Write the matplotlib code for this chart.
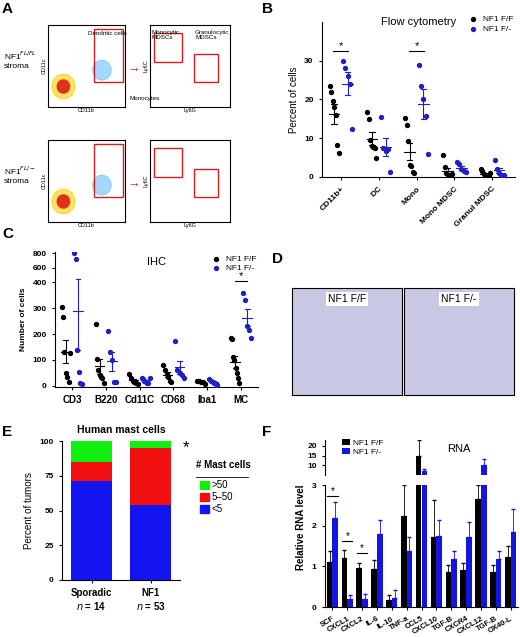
import matplotlib
matplotlib.use("Agg")
import matplotlib.pyplot as plt
import numpy as np
from matplotlib.patches import Rectangle

W, H = 520, 637
fig = plt.figure(figsize=(W/100, H/100), dpi=100)
plt.rcParams['font.family'] = ['Liberation Sans', 'DejaVu Sans']
BLK = 'black'; BLU = '#2020c8'

def ax_px(x0, y0, x1, y1):
    return fig.add_axes([x0/W, 1-y1/H, (x1-x0)/W, (y1-y0)/H])

def letter(x, y, s):
    fig.text(x/W, 1-y/H, s, fontsize=11, fontweight='bold', va='top')

# ---------- data ----------
b_cats = ["CD11b+", "DC", "Mono", "Mono MDSC", "Granul MDSC"]
b_ff = [[23.5, 22, 19.5, 18, 16, 8.2, 6.3], [16.8, 15, 9.5, 8, 7.8, 7.5, 4.8],
        [15.3, 13.5, 9.2, 3, 2.8, 1.2, 1.0], [5.6, 2.5, 1.0, 0.5, 0.3, 0.2, 0.8],
        [2.0, 1.5, 0.8, 0.5, 0.3, 0.2, 1.0]]
b_fm = [[30, 28, 26, 24, 12.5], [15.6, 7.5, 6.8, 7.2, 1.2], [29, 23.5, 20, 15.8, 6],
        [3.8, 3.3, 2.0, 1.5, 1.2], [4.3, 2.0, 1.0, 0.6, 0.5]]

c_cats = ["CD3", "B220", "Cd11C", "CD68", "Iba1", "MC"]
c_ff = [[305, 265, 130, 50, 35, 15, 125], [240, 105, 60, 40, 35, 30, 12],
        [45, 30, 20, 15, 10, 5], [80, 60, 45, 35, 20, 15], [20, 18, 15, 15, 5],
        [185, 180, 110, 100, 70, 50, 30, 12]]
c_fm = [[800, 730, 140, 55, 10, 5], [210, 130, 100, 15, 15], [30, 25, 20, 15, 12, 10, 30],
        [175, 60, 50, 40, 30], [25, 20, 15, 10, 5, 2], [360, 330, 230, 215, 185]]

e_groups = ["Sporadic", "NF1"]
e_n = [14, 53]
e_lt5 = [71, 54]
e_5_50 = [14, 41]
e_gt50 = [15, 5]

f_genes = ["SCF", "CXCL1", "CXCL2", "IL-6", "IL-10", "TNF-a", "CCL5", "CXCL10",
           "TGF-B", "CXCR4", "CXCL12", "TGF-B", "OX40-L"]
f_ff = [1.1, 1.2, 0.95, 0.93, 0.17, 2.25, 15, 1.72, 0.85, 0.9, 2.65, 0.85, 1.22]
f_fm = [2.2, 0.2, 0.2, 1.8, 0.22, 1.38, 7, 1.75, 1.18, 1.72, 10, 1.18, 1.85]
f_ff_err = [0.28, 0.2, 0.12, 0.22, 0.12, 0.75, 8, 0.9, 0.18, 0.18, 0.35, 0.18, 0.28]
f_fm_err = [0.38, 0.1, 0.12, 0.35, 0.2, 0.33, 1.0, 0.4, 0.2, 0.38, 3, 0.2, 0.55]

def sem(v):
    v = np.array(v, float); return v.mean(), v.std(ddof=1)/np.sqrt(len(v))

def scatter_group(ax, x, vals, col, w=0.28):
    vals = np.array(vals, float)
    n = len(vals)
    offs = np.linspace(-0.12, 0.12, n) if n > 1 else [0]
    ax.scatter(x + np.array(offs), vals, s=8, color=col, zorder=3)
    m, s = sem(vals)
    ax.plot([x-w/2, x+w/2], [m, m], color=col, lw=0.8)
    ax.plot([x, x], [m-s, m+s], color=col, lw=0.8)
    ax.plot([x-w/4, x+w/4], [m-s, m-s], color=col, lw=0.8)
    ax.plot([x-w/4, x+w/4], [m+s, m+s], color=col, lw=0.8)

def clean(ax):
    for s in ['top', 'right']:
        ax.spines[s].set_visible(False)
    ax.tick_params(labelsize=6, width=0.8, length=2.5)
    for lab in ax.get_xticklabels() + ax.get_yticklabels():
        lab.set_fontweight('bold')

# ---------- A ----------
letter(2, 2, "A")
for row, (yy, lab) in enumerate([(15, "NF1$^{FL/FL}$\nstroma"), (130, "NF1$^{FL/-}$\nstroma")]):
    fig.text(4/W, 1-(yy+45)/H, lab, fontsize=6, va='center')
    a1 = ax_px(48, yy+10, 125, yy+92)
    a2 = ax_px(150, yy+10, 230, yy+92)
    for a in (a1, a2):
        a.set_xticks([]); a.set_yticks([]); a.set_xlim(0, 1); a.set_ylim(0, 1)
        a.set_facecolor('white')
    a1.add_patch(plt.Circle((0.2, 0.25), 0.15, color='#ffd000', alpha=0.6))
    a1.add_patch(plt.Circle((0.2, 0.25), 0.08, color='#e03020'))
    a1.add_patch(plt.Circle((0.7, 0.45), 0.12, color='#80c8ff', alpha=0.7))
    a1.add_patch(Rectangle((0.6, 0.3), 0.38, 0.65, fill=False, ec='#d02020', lw=1))
    a1.set_xlabel("CD11b", fontsize=4, labelpad=1); a1.set_ylabel("CD11c", fontsize=4, labelpad=1)
    a2.add_patch(Rectangle((0.05, 0.55), 0.35, 0.35, fill=False, ec='#d02020', lw=1))
    a2.add_patch(Rectangle((0.55, 0.3), 0.3, 0.35, fill=False, ec='#d02020', lw=1))
    a2.set_xlabel("Ly6G", fontsize=4, labelpad=1); a2.set_ylabel("Ly6C", fontsize=4, labelpad=1)
    fig.text(127/W, 1-(yy+55)/H, "\u2192", color='#d02020', fontsize=9, va='center')
    if row == 0:
        fig.text(88/W, 1-(yy+20)/H, "Dendritic cells", fontsize=4.5)
        fig.text(130/W, 1-(yy+85)/H, "Monocytes", fontsize=4.5)
        fig.text(152/W, 1-(yy+20)/H, "Monocytic\nMDSCs", fontsize=4.5, va='center')
        fig.text(195/W, 1-(yy+20)/H, "Granulocytic\nMDSCs", fontsize=4.5, va='center')

# ---------- B ----------
letter(262, 2, "B")
axB = ax_px(322, 22, 515, 177)
for i in range(len(b_cats)):
    scatter_group(axB, i-0.18, b_ff[i], BLK)
    scatter_group(axB, i+0.18, b_fm[i], BLU)
axB.set_xlim(-0.5, 4.6); axB.set_ylim(0, 40)
axB.set_yticks([0, 10, 20, 30])
axB.set_xticks(range(len(b_cats)))
axB.set_xticklabels(b_cats, rotation=45, ha='right', rotation_mode='anchor')
axB.set_ylabel("Percent of cells", fontsize=7)
axB.set_title("Flow cytometry", fontsize=8, y=0.93)
for i in (0, 2):
    axB.plot([i-0.2, i+0.2], [32.5, 32.5], color='k', lw=0.8)
    axB.text(i, 32.5, "*", ha='center', va='bottom', fontsize=8)
axB.scatter([], [], color=BLK, s=8, label="NF1 F/F")
axB.scatter([], [], color=BLU, s=8, label="NF1 F/-")
axB.legend(loc='upper right', bbox_to_anchor=(1.02, 1.08), fontsize=6, frameon=False,
           handletextpad=0.2, borderpad=0.2, labelspacing=0.2)
clean(axB)

# ---------- C ----------
letter(2, 227, "C")
axC = ax_px(55, 252, 258, 387)

def c_fwd(y):
    y = np.asarray(y, float)
    return np.where(y > 400, 400 + (y - 400) * 0.28, y)

def c_inv(y):
    y = np.asarray(y, float)
    return np.where(y > 400, 400 + (y - 400) / 0.28, y)

axC.set_yscale('function', functions=(c_fwd, c_inv))
for i in range(len(c_cats)):
    scatter_group(axC, i-0.18, c_ff[i], BLK)
    scatter_group(axC, i+0.18, c_fm[i], BLU)
axC.set_xlim(-0.5, 5.5); axC.set_ylim(-5, 820)
axC.set_yticks([0, 100, 200, 300, 400, 600, 800])
axC.set_yticklabels(["0", "100", "200", "300", "400", "600", "800"])
axC.set_xticks(range(len(c_cats))); axC.set_xticklabels(c_cats, fontsize=7)
axC.set_ylabel("Number of cells", fontsize=6, fontweight='bold')
axC.text(2.5, 640, "IHC", fontsize=8, ha='center')
axC.plot([4.82, 5.18], [415, 415], color='k', lw=0.8)
axC.text(5, 415, "*", ha='center', va='bottom', fontsize=8)
axC.scatter([], [], color=BLK, s=8, label="NF1 F/F")
axC.scatter([], [], color=BLU, s=8, label="NF1 F/-")
axC.legend(loc='upper right', bbox_to_anchor=(1.02, 1.02), fontsize=6, frameon=False,
           handletextpad=0.2, borderpad=0.2, labelspacing=0.2)
clean(axC)
for lab in axC.get_xticklabels():
    lab.set_fontsize(7)

# ---------- D ----------
letter(272, 252, "D")
for x0, lab in [(292, "NF1 F/F"), (404, "NF1 F/-")]:
    aD = ax_px(x0, 288, x0+110, 395)
    aD.set_facecolor('#c8c8e4'); aD.set_xticks([]); aD.set_yticks([])
    aD.text(0.5, 0.9, lab, transform=aD.transAxes, ha='center', va='center', fontsize=7.5,
            bbox=dict(fc='white', ec='none', pad=1.5))

# ---------- E ----------
letter(2, 425, "E")
axE = ax_px(62, 441, 180, 580)
x = np.arange(len(e_groups))
axE.bar(x, e_lt5, width=0.7, color='#1414f0')
axE.bar(x, e_5_50, bottom=e_lt5, width=0.7, color='#f01010')
axE.bar(x, e_gt50, bottom=np.add(e_lt5, e_5_50), width=0.7, color='#10f010')
axE.set_xlim(-0.5, 1.5); axE.set_ylim(0, 100)
axE.set_yticks([0, 25, 50, 75, 100])
axE.set_xticks(x)
axE.set_xticklabels([f"{g}\n$\\it{{n}}$ = {n}" for g, n in zip(e_groups, e_n)], fontsize=7)
axE.set_ylabel("Percent of tumors", fontsize=7)
axE.set_title("Human mast cells", fontsize=7.5, fontweight='bold', y=1.0)
axE.text(1.05, 0.9, "*", transform=axE.transAxes, fontsize=12, ha='center', va='bottom')
clean(axE)
for lab in axE.get_xticklabels():
    lab.set_fontsize(7)
fig.text(196/W, 1-468/H, "# Mast cells", fontsize=7, fontweight='bold')
fig.add_artist(plt.Line2D([196/W, 248/W], [1-477/H, 1-477/H], color='k', lw=0.6))
for j, (lab, col) in enumerate([(">50", '#10f010'), ("5\u201350", '#f01010'), ("<5", '#1414f0')]):
    yy = 485 + j*12
    fig.add_artist(Rectangle((200/W, 1-(yy+4)/H), 9/W, 8/H, color=col, transform=fig.transFigure))
    fig.text(212/W, 1-yy/H, lab, fontsize=7, va='center')

# ---------- F ----------
letter(262, 425, "F")
xf = np.arange(len(f_genes))
bw = 0.38
axF1 = ax_px(325, 440, 518, 475)
axF2 = ax_px(325, 485, 518, 607)
for a in (axF1, axF2):
    a.bar(xf-bw/2, f_ff, bw, yerr=[np.zeros(len(xf)), f_ff_err], color=BLK, ecolor=BLK,
          error_kw=dict(lw=0.6, capsize=1.2), label="NF1 F/F")
    a.bar(xf+bw/2, f_fm, bw, yerr=[np.zeros(len(xf)), f_fm_err], color='#1515e0', ecolor='#1515e0',
          error_kw=dict(lw=0.6, capsize=1.2), label="NF1 F/-")
    a.set_xlim(-0.5, len(xf)-0.5)
    clean(a)
axF1.set_ylim(5, 23); axF1.set_yticks([10, 15, 20])
axF1.spines['bottom'].set_visible(False); axF1.set_xticks([])
axF2.set_ylim(0, 3); axF2.set_yticks([0, 1, 2, 3])
axF2.set_xticks(xf)
axF2.set_xticklabels(f_genes, rotation=30, ha='right', rotation_mode='anchor', fontsize=5.5)
for lab in axF2.get_xticklabels():
    lab.set_fontweight('bold')
axF2.set_ylabel("Relative RNA level", fontsize=7, fontweight='bold')
axF2.yaxis.set_label_coords(-0.1, 0.65)
axF1.text(8.5, 17, "RNA", fontsize=8, ha='center')
axF1.legend(loc='upper left', bbox_to_anchor=(0.05, 1.25), fontsize=6, frameon=False,
            handlelength=1, handletextpad=0.3, labelspacing=0.2)
for i, yy in [(0, 2.73), (1, 1.62), (2, 1.33)]:
    axF2.plot([i-0.35, i+0.35], [yy, yy], color='k', lw=0.8)
    axF2.text(i, yy, "*", ha='center', va='bottom', fontsize=7)

fig.savefig("out.png", dpi=100)
